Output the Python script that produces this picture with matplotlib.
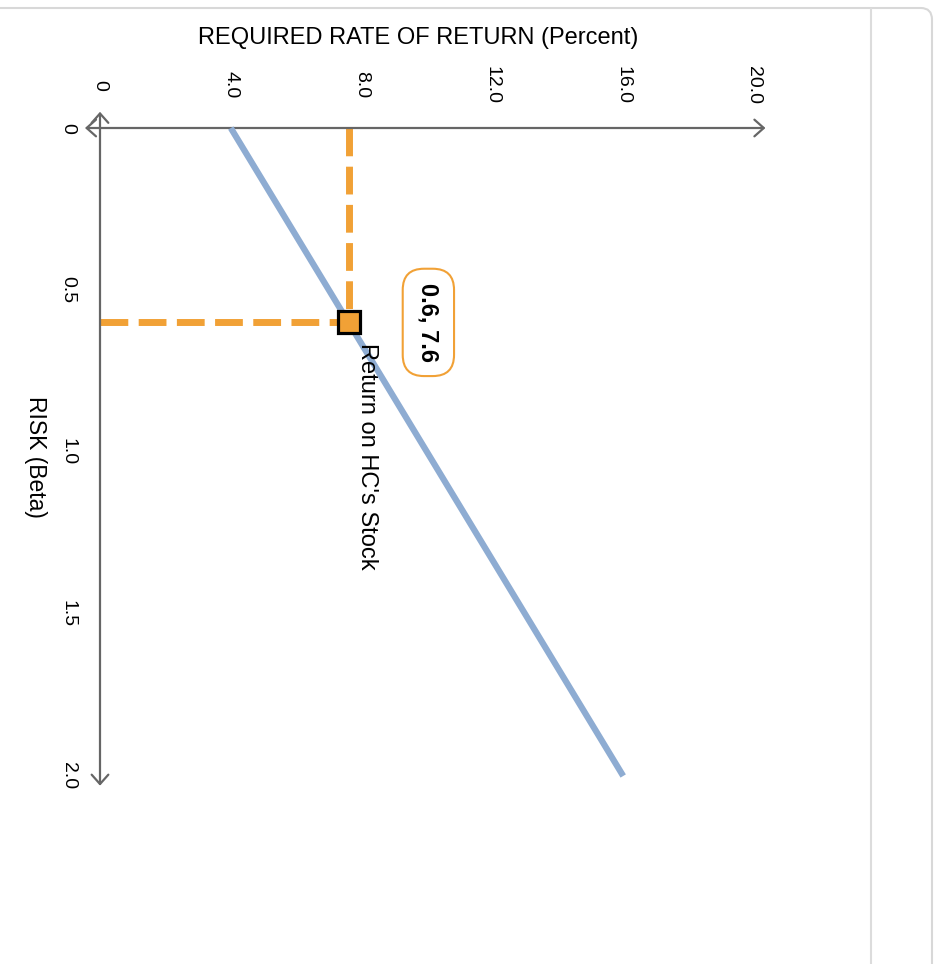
import matplotlib
matplotlib.use("Agg")
import matplotlib.pyplot as plt
from matplotlib.patches import FancyBboxPatch
from matplotlib.lines import Line2D

plt.rcParams['font.family'] = ['Liberation Sans', 'DejaVu Sans']

# data
sml_beta = [0.0, 2.0]
sml_return = [4.0, 16.0]
hc_beta = 0.6
hc_return = 7.6
return_ticks = [0, 4, 8, 12, 16, 20]
return_labels = ["0", "4.0", "8.0", "12.0", "16.0", "20.0"]
beta_ticks = [0, 0.5, 1.0, 1.5, 2.0]
beta_labels = ["0", "0.5", "1.0", "1.5", "2.0"]

blue = '#8eacd2'
orange = '#f1a136'
axis_gray = '#666666'

W, H = 934, 964
fig = plt.figure(figsize=(W / 100, H / 100), dpi=100)

# panel border
frame = FancyBboxPatch((-20 / W, -20 / H), (932 + 20) / W, (H - 8 + 20) / H,
                       boxstyle="round,pad=0,rounding_size=0.012",
                       transform=fig.transFigure, fc='none', ec='#d8d8d8', lw=1.5)
fig.add_artist(frame)
fig.add_artist(Line2D([871 / W, 871 / W], [0, 1 - 9 / H], transform=fig.transFigure,
                      color='#dcdcdc', lw=1.5))

# axes: return horizontal, beta vertical (downward)
left, right, top, bottom = 100, 754, 128, 776
ax = fig.add_axes([left / W, 1 - bottom / H, (right - left) / W, (bottom - top) / H])
ax.set_xlim(0, 20)
ax.set_ylim(2, 0)
ax.patch.set_alpha(0)
for s in ax.spines.values():
    s.set_visible(False)

ax.xaxis.tick_top()
ax.set_xticks(return_ticks)
ax.set_xticklabels(return_labels)
ax.set_yticks(beta_ticks)
ax.set_yticklabels(beta_labels)
ax.tick_params(axis='x', length=0, pad=31, labelrotation=-90, labelsize=14)
ax.tick_params(axis='y', length=0, pad=23, labelrotation=-90, labelsize=14)
plt.setp(ax.get_xticklabels(), va='center', ha='center')
plt.setp(ax.get_yticklabels(), va='center', ha='center')

# axis arrows
arrow = dict(arrowstyle='<->,head_length=0.45,head_width=0.4', color=axis_gray,
             lw=1.6, shrinkA=0, shrinkB=0, mutation_scale=15)
ax.annotate('', xy=(20.35, 0), xytext=(-0.46, 0), arrowprops=arrow, annotation_clip=False)
ax.annotate('', xy=(0, 2.03), xytext=(0, -0.05), arrowprops=arrow, annotation_clip=False)

# security market line
ax.plot(sml_return, sml_beta, color=blue, lw=4.5, solid_capstyle='butt', clip_on=False, zorder=3)

# dashed guides
ax.plot([hc_return, hc_return], [0, hc_beta], color=orange, lw=5, dashes=(4, 1.5),
        dash_capstyle='butt', clip_on=False, zorder=2)
ax.plot([0, hc_return], [hc_beta, hc_beta], color=orange, lw=5, dashes=(4, 1.5),
        dash_capstyle='butt', clip_on=False, zorder=2)

# point
ax.plot([hc_return], [hc_beta], marker='s', ms=15.5, mfc=orange, mec='black', mew=2.3,
        clip_on=False, zorder=5)

ax.annotate("Return on HC's Stock", xy=(hc_return, hc_beta), xytext=(13, -15),
            textcoords='offset points', rotation=-90, ha='center', va='top',
            fontsize=17, zorder=6)
ax.annotate(f"{hc_beta}, {hc_return}", xy=(hc_return, hc_beta), xytext=(57.5, 0),
            textcoords='offset points', rotation=-90, ha='center', va='center',
            fontsize=17, fontweight='bold', zorder=6,
            bbox=dict(boxstyle='round,pad=0.6,rounding_size=0.9', fc='white', ec=orange, lw=1.5))

fig.text(418 / W, 1 - 38 / H, "REQUIRED RATE OF RETURN (Percent)", ha='center', va='center',
         fontsize=17)
fig.text(35 / W, 1 - 457 / H, "RISK (Beta)", ha='center', va='center', rotation=-90,
         fontsize=16.5)

fig.savefig("out.png", dpi=100)
